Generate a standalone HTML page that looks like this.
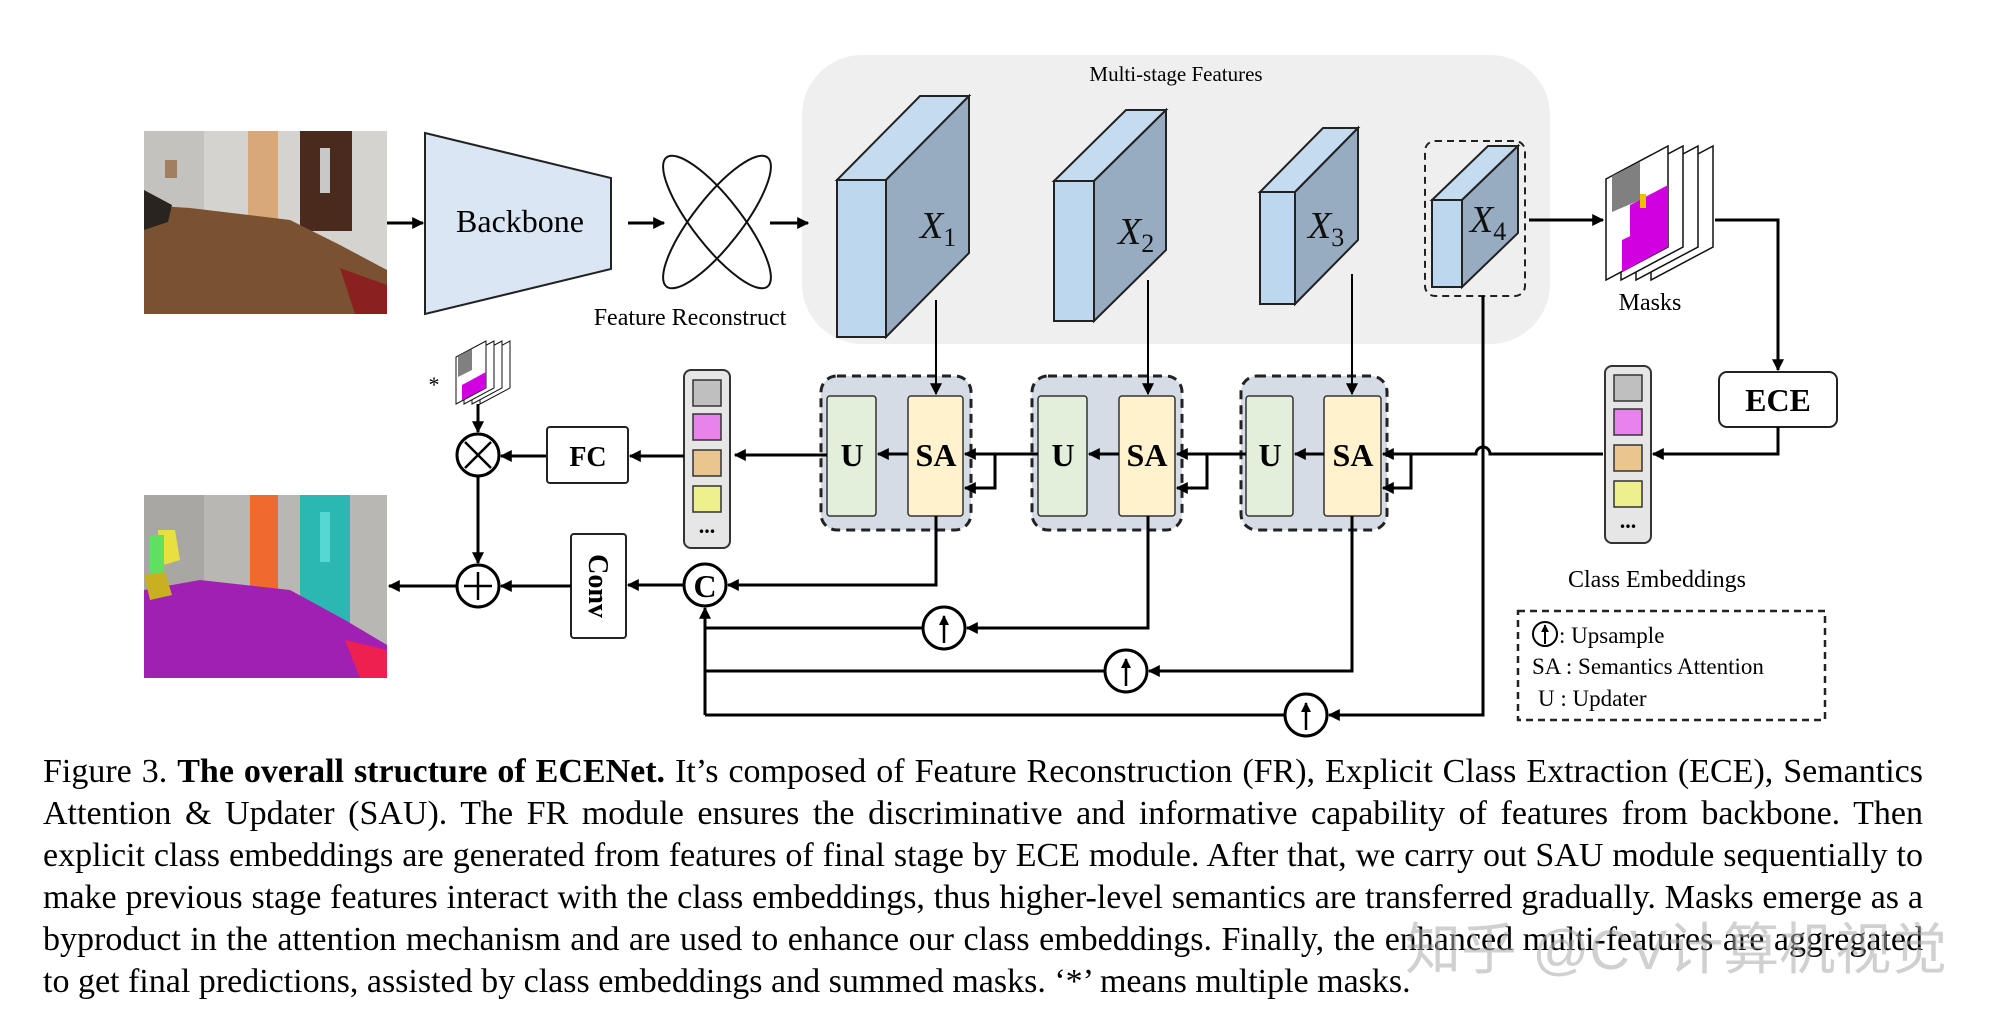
<!DOCTYPE html>
<html><head><meta charset="utf-8"><style>
html,body{margin:0;padding:0;background:#fff;width:2000px;height:1017px;overflow:hidden;position:relative}
svg{position:absolute;left:0;top:0}
.t{font-family:"Liberation Serif",serif}
.cap{position:absolute;left:43px;width:1880px;font-family:"Liberation Serif",serif;font-size:34px;color:#000;line-height:42px}
.cap div{text-align:justify;text-align-last:justify;white-space:nowrap;height:42px}
.cap div.last{text-align-last:left}
.wm{position:absolute;left:1405px;top:905px;font-family:"Liberation Sans","Noto Sans CJK SC",sans-serif;font-size:56px;color:rgba(170,170,170,0.55);white-space:nowrap}
</style></head><body>
<svg width="2000" height="1017" viewBox="0 0 2000 1017" xmlns="http://www.w3.org/2000/svg">
<defs>
<marker id="a" viewBox="0 0 10 10" refX="9" refY="5" markerWidth="4" markerHeight="4" orient="auto-start-reverse" markerUnits="strokeWidth"><path d="M0,0 L10,5 L0,10 z" fill="#000"/></marker>
<marker id="b" viewBox="0 0 10 10" refX="9" refY="5" markerWidth="6" markerHeight="6" orient="auto-start-reverse" markerUnits="strokeWidth"><path d="M0,0 L10,5 L0,10 z" fill="#000"/></marker>
</defs>
<rect x="802" y="55" width="748" height="289" rx="60" fill="#efefef"/>
<text class="t" x="1176" y="81" font-size="21" text-anchor="middle">Multi-stage Features</text>

<g>
<rect x="144" y="131" width="243" height="183" fill="#d5d3cf"/>
<rect x="144" y="131" width="60" height="183" fill="#c4c2be"/>
<rect x="248" y="131" width="30" height="100" fill="#d8a878"/>
<rect x="300" y="131" width="52" height="100" fill="#4a2a1c"/>
<rect x="320" y="148" width="10" height="45" fill="#c8c8c8"/>
<rect x="165" y="160" width="12" height="18" fill="#a08060"/>
<polygon points="144,205 190,208 290,220 340,245 387,270 387,314 144,314" fill="#7a5232"/>
<polygon points="144,190 172,205 168,222 144,230" fill="#2a2420"/>
<polygon points="340,268 387,285 387,314 355,314" fill="#8a2020"/>
</g>
<polygon points="425,133 611,178 611,269 425,314" fill="#dae6f3" stroke="#222" stroke-width="2"/>
<text class="t" x="520" y="232" font-size="32" text-anchor="middle">Backbone</text>
<line x1="387" y1="223" x2="423" y2="223" stroke="#000" stroke-width="3" marker-end="url(#a)"/>
<line x1="628" y1="223" x2="664" y2="223" stroke="#000" stroke-width="3" marker-end="url(#a)"/>
<line x1="770" y1="223" x2="808" y2="223" stroke="#000" stroke-width="3" marker-end="url(#a)"/>
<ellipse cx="717" cy="222" rx="82" ry="24" transform="rotate(52 717 222)" fill="none" stroke="#111" stroke-width="2"/>
<ellipse cx="717" cy="222" rx="82" ry="24" transform="rotate(-52 717 222)" fill="none" stroke="#111" stroke-width="2"/>
<text class="t" x="690" y="325" font-size="24" text-anchor="middle">Feature Reconstruct</text>

<g stroke="#222" stroke-width="2">
<polygon points="837,180 886,180 969,96 920,96" fill="#c5dbf0"/>
<polygon points="886,180 969,96 969,253 886,337" fill="#97abc1"/>
<rect x="837" y="180" width="49" height="157" fill="#bdd7ee"/>
<polygon points="1054,181 1094,181 1166,110 1126,110" fill="#c5dbf0"/>
<polygon points="1094,181 1166,110 1166,250 1094,321" fill="#97abc1"/>
<rect x="1054" y="181" width="40" height="140" fill="#bdd7ee"/>
<polygon points="1260,192 1295,192 1358,128 1323,128" fill="#c5dbf0"/>
<polygon points="1295,192 1358,128 1358,240 1295,304" fill="#97abc1"/>
<rect x="1260" y="192" width="35" height="112" fill="#bdd7ee"/>
<polygon points="1432,200 1462,200 1518,146 1488,146" fill="#c5dbf0"/>
<polygon points="1462,200 1518,146 1518,233 1462,287" fill="#97abc1"/>
<rect x="1432" y="200" width="30" height="87" fill="#bdd7ee"/>
</g>
<rect x="1425" y="141" width="100" height="155" rx="10" fill="none" stroke="#222" stroke-width="2" stroke-dasharray="7,5"/>
<g class="t" font-size="38" fill="#111">
<text x="920" y="238" font-style="italic">X<tspan font-size="26" font-style="normal" dy="8">1</tspan></text>
<text x="1118" y="244" font-style="italic">X<tspan font-size="26" font-style="normal" dy="8">2</tspan></text>
<text x="1308" y="238" font-style="italic">X<tspan font-size="26" font-style="normal" dy="8">3</tspan></text>
<text x="1470" y="232" font-style="italic">X<tspan font-size="26" font-style="normal" dy="8">4</tspan></text>
</g>

<g stroke="#111" stroke-width="1.5">
<polygon points="1651,179 1713,146 1713,247 1651,280" fill="#fff"/>
<polygon points="1636,179 1698,146 1698,247 1636,280" fill="#fff"/>
<polygon points="1621,179 1683,146 1683,247 1621,280" fill="#fff"/>
<polygon points="1606,179 1668,146 1668,247 1606,280" fill="#fff"/>
</g>
<polygon points="1622,240 1668,218 1668,247 1622,272" fill="#d000e0"/>
<polygon points="1630,205 1668,185 1668,218 1630,238" fill="#d000e0"/>
<polygon points="1612,176 1640,162 1640,200 1612,212" fill="#808080"/>
<rect x="1640" y="194" width="6" height="14" fill="#f0c000"/>
<line x1="1529" y1="220" x2="1603" y2="220" stroke="#000" stroke-width="3" marker-end="url(#a)"/>
<text class="t" x="1650" y="310" font-size="24" text-anchor="middle">Masks</text>
<polyline points="1715,220 1778,220 1778,370" fill="none" stroke="#000" stroke-width="3" marker-end="url(#a)"/>
<rect x="1719" y="372" width="118" height="55" rx="8" fill="#fff" stroke="#222" stroke-width="2"/>
<text class="t" x="1778" y="411" font-size="32" font-weight="bold" text-anchor="middle">ECE</text>
<polyline points="1778,427 1778,454 1653,454" fill="none" stroke="#000" stroke-width="3" marker-end="url(#a)"/>

<rect x="1605" y="366" width="46" height="177" rx="7" fill="#e6e6e6" stroke="#333" stroke-width="2"/>
<g stroke="#333" stroke-width="1.5">
<rect x="1614" y="375" width="28" height="26" fill="#bfbfbf"/>
<rect x="1614" y="409" width="28" height="26" fill="#e883ee"/>
<rect x="1614" y="445" width="28" height="26" fill="#eac58e"/>
<rect x="1614" y="481" width="28" height="26" fill="#eef08e"/>
</g>
<text class="t" x="1628" y="528" font-size="22" font-weight="bold" text-anchor="middle">...</text>
<text class="t" x="1657" y="587" font-size="24" text-anchor="middle">Class Embeddings</text>

<rect x="684" y="370" width="46" height="178" rx="7" fill="#e6e6e6" stroke="#333" stroke-width="2"/>
<g stroke="#333" stroke-width="1.5">
<rect x="693" y="380" width="28" height="26" fill="#bfbfbf"/>
<rect x="693" y="414" width="28" height="26" fill="#e883ee"/>
<rect x="693" y="450" width="28" height="26" fill="#eac58e"/>
<rect x="693" y="486" width="28" height="26" fill="#eef08e"/>
</g>
<text class="t" x="707" y="533" font-size="22" font-weight="bold" text-anchor="middle">...</text>

<g>
<rect x="821" y="376" width="150" height="154" rx="16" fill="#d6dce5" stroke="#222" stroke-width="3" stroke-dasharray="9,6"/>
<rect x="827" y="396" width="49" height="120" rx="3" fill="#e2efda" stroke="#333" stroke-width="1.5"/>
<rect x="908" y="396" width="55" height="120" rx="3" fill="#fff2cc" stroke="#333" stroke-width="1.5"/>
<rect x="1032" y="376" width="150" height="154" rx="16" fill="#d6dce5" stroke="#222" stroke-width="3" stroke-dasharray="9,6"/>
<rect x="1038" y="396" width="49" height="120" rx="3" fill="#e2efda" stroke="#333" stroke-width="1.5"/>
<rect x="1119" y="396" width="56" height="120" rx="3" fill="#fff2cc" stroke="#333" stroke-width="1.5"/>
<rect x="1241" y="376" width="146" height="154" rx="16" fill="#d6dce5" stroke="#222" stroke-width="3" stroke-dasharray="9,6"/>
<rect x="1246" y="396" width="47" height="120" rx="3" fill="#e2efda" stroke="#333" stroke-width="1.5"/>
<rect x="1324" y="396" width="57" height="120" rx="3" fill="#fff2cc" stroke="#333" stroke-width="1.5"/>
</g>
<g class="t" font-size="32" font-weight="bold" text-anchor="middle">
<text x="852" y="466">U</text><text x="936" y="466">SA</text>
<text x="1063" y="466">U</text><text x="1147" y="466">SA</text>
<text x="1270" y="466">U</text><text x="1353" y="466">SA</text>
</g>
<g stroke="#000" stroke-width="3" fill="none">
<line x1="908" y1="454" x2="878" y2="454" marker-end="url(#a)"/>
<line x1="1119" y1="454" x2="1089" y2="454" marker-end="url(#a)"/>
<line x1="1324" y1="454" x2="1295" y2="454" marker-end="url(#a)"/>
<line x1="1038" y1="454" x2="965" y2="454" marker-end="url(#a)"/>
<polyline points="995,454 995,488 965,488" marker-end="url(#a)"/>
<line x1="1246" y1="454" x2="1177" y2="454" marker-end="url(#a)"/>
<polyline points="1207,454 1207,488 1177,488" marker-end="url(#a)"/>
<path d="M1603,454 L1490,454 A7,7 0 0 0 1476,454 L1383,454" marker-end="url(#a)"/>
<polyline points="1411,454 1411,488 1383,488" marker-end="url(#a)"/>
<line x1="827" y1="455" x2="735" y2="455" marker-end="url(#a)"/>
<line x1="684" y1="456" x2="630" y2="456" marker-end="url(#a)"/>
<line x1="547" y1="456" x2="501" y2="456" marker-end="url(#a)"/>
</g>
<g stroke="#000" stroke-width="2" fill="none">
<line x1="936" y1="300" x2="936" y2="394" marker-end="url(#b)"/>
<line x1="1148" y1="280" x2="1148" y2="394" marker-end="url(#b)"/>
<line x1="1352" y1="274" x2="1352" y2="394" marker-end="url(#b)"/>
</g>
<rect x="547" y="427" width="81" height="56" rx="3" fill="#fff" stroke="#222" stroke-width="2"/>
<text class="t" x="588" y="466" font-size="28" font-weight="bold" text-anchor="middle">FC</text>
<rect x="571" y="534" width="55" height="104" rx="3" fill="#fff" stroke="#222" stroke-width="2"/>
<text class="t" font-size="28" font-weight="bold" text-anchor="middle" transform="translate(598,586) rotate(90)" y="9">Conv</text>
<g stroke="#111" stroke-width="1">
<polygon points="480,357 510,341 510,388 480,404" fill="#fff"/>
<polygon points="472,357 502,341 502,388 472,404" fill="#fff"/>
<polygon points="464,357 494,341 494,388 464,404" fill="#fff"/>
<polygon points="456,357 486,341 486,388 456,404" fill="#fff"/>
</g>
<polygon points="462,385 486,372 486,388 462,400" fill="#d000e0"/>
<polygon points="458,356 472,349 472,370 458,377" fill="#808080"/>
<text class="t" x="434" y="392" font-size="22" text-anchor="middle">*</text>
<g stroke="#000" stroke-width="3" fill="#fff">
<circle cx="478" cy="455" r="21"/>
<circle cx="478" cy="586" r="21"/>
<circle cx="705" cy="585" r="21"/>
</g>
<g stroke="#000" stroke-width="2.5">
<line x1="465" y1="442" x2="491" y2="468"/><line x1="491" y1="442" x2="465" y2="468"/>
<line x1="464" y1="586" x2="492" y2="586"/><line x1="478" y1="572" x2="478" y2="600"/>
</g>
<text class="t" x="705" y="597" font-size="32" font-weight="bold" text-anchor="middle">C</text>
<g stroke="#000" stroke-width="3" fill="none">
<line x1="478" y1="404" x2="478" y2="432" marker-end="url(#a)"/>
<line x1="478" y1="476" x2="478" y2="563" marker-end="url(#a)"/>
<line x1="684" y1="585" x2="628" y2="585" marker-end="url(#a)"/>
<line x1="571" y1="586" x2="501" y2="586" marker-end="url(#a)"/>
<line x1="457" y1="586" x2="389" y2="586" marker-end="url(#a)"/>
<polyline points="936,516 936,585 728,585" marker-end="url(#a)"/>
<line x1="705" y1="715" x2="705" y2="608" marker-end="url(#a)"/>
<polyline points="1148,516 1148,628 967,628" marker-end="url(#a)"/>
<line x1="923" y1="628" x2="705" y2="628"/>
<polyline points="1352,516 1352,671 1149,671" marker-end="url(#a)"/>
<line x1="1105" y1="671" x2="705" y2="671"/>
<polyline points="1483,296 1483,715 1329,715" marker-end="url(#a)"/>
<line x1="1285" y1="715" x2="705" y2="715"/>
</g>
<g stroke="#000" stroke-width="3" fill="#fff">
<circle cx="944" cy="628" r="21"/><circle cx="1126" cy="671" r="21"/><circle cx="1306" cy="715" r="21"/>
</g>
<g stroke="#000" stroke-width="2.5">
<line x1="944" y1="643" x2="944" y2="616" marker-end="url(#a)"/>
<line x1="1126" y1="686" x2="1126" y2="659" marker-end="url(#a)"/>
<line x1="1306" y1="730" x2="1306" y2="703" marker-end="url(#a)"/>
</g>
<g>
<rect x="144" y="495" width="243" height="183" fill="#b9b7b3"/>
<rect x="144" y="495" width="60" height="183" fill="#a9a7a3"/>
<rect x="250" y="495" width="28" height="100" fill="#f06a30"/>
<rect x="300" y="495" width="50" height="165" fill="#2bb8b2"/>
<rect x="320" y="512" width="10" height="50" fill="#55d8d4"/>
<polygon points="158,530 175,530 180,560 160,566" fill="#e8e040"/>
<rect x="150" y="535" width="14" height="50" fill="#60e060"/>
<polygon points="144,590 200,580 290,590 345,620 387,645 387,678 144,678" fill="#a020b4"/>
<polygon points="144,575 165,572 172,595 150,600" fill="#c8b020"/>
<polygon points="345,640 387,650 387,678 360,678" fill="#ee2050"/>
</g>
<rect x="1518" y="611" width="307" height="109" fill="none" stroke="#222" stroke-width="2.5" stroke-dasharray="7,5"/>
<circle cx="1545" cy="634" r="12" fill="#fff" stroke="#000" stroke-width="2"/>
<line x1="1545" y1="644" x2="1545" y2="625" stroke="#000" stroke-width="2" marker-end="url(#a)"/>
<g class="t" font-size="23">
<text x="1559" y="643">: Upsample</text>
<text x="1532" y="674">SA : Semantics Attention</text>
<text x="1538" y="706">U : Updater</text>
</g>
</svg>
<div class="cap" style="top:751px">
<div>Figure 3. <b>The overall structure of ECENet.</b> It’s composed of Feature Reconstruction (FR), Explicit Class Extraction (ECE), Semantics</div>
<div>Attention &amp; Updater (SAU). The FR module ensures the discriminative and informative capability of features from backbone. Then</div>
<div>explicit class embeddings are generated from features of final stage by ECE module. After that, we carry out SAU module sequentially to</div>
<div>make previous stage features interact with the class embeddings, thus higher-level semantics are transferred gradually. Masks emerge as a</div>
<div>byproduct in the attention mechanism and are used to enhance our class embeddings. Finally, the enhanced multi-features are aggregated</div>
<div class="last">to get final predictions, assisted by class embeddings and summed masks. ‘*’ means multiple masks.</div>
</div>
<div class="wm">知乎 @CV计算机视觉</div>
</body></html>
